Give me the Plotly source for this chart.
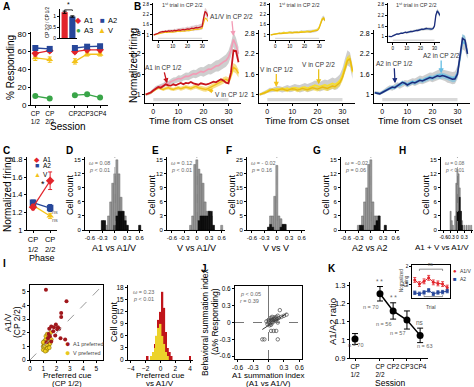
import numpy as np
import plotly.graph_objects as go

W, H = 474, 387
FONT = "Liberation Sans"

RED = "#e2242b"; BLUE = "#27479a"; GREEN = "#39a548"; YELLOW = "#f3c21a"
PINK = "#f39bb5"; NAVY = "#1c2c7c"; LBLUE = "#63bde3"; DRED = "#a0171c"
GRAYBAR = "#9a9a9a"; TXTGRAY = "#666666"

# ---------------- Panel A data ----------------
A_sessions = ["CP<br>1/2", "CP<br>2/2", "CP2", "CP3", "CP4"]
A_pos = [1, 2, 3.75, 4.6, 5.5]
A_A1 = [58, 61, 60, 62, 62]
A_A1_err = [3, 2, 2, 2, 2]
A_A2 = [64, 63, 64, 65.5, 66]
A_A2_err = [2, 2, 2, 2, 2]
A_A3 = [10, 7.3, 11, 12, 8.4]
A_A3_err = [1.5, 1, 1.5, 1.5, 1]
A_V = [53, 51, 49, 57, 57]
A_V_err = [3, 3, 3, 2, 2]
Ainset_pos = [0, 1]
Ainset_vals = [1.2, 1.0]
Ainset_err = [0.05, 0.03]

# ---------------- Panel B data ----------------
t = [-3, -2, -1, 0, 1, 2, 3, 4, 5, 6, 7, 8, 9, 10, 11, 12, 13, 14, 15, 16,
     17, 18, 19, 20, 21, 22, 23, 24, 25, 26, 27, 28, 29, 30, 31, 32, 33, 34]
CS_ON, CS_OFF = 0, 30
B1_red = [1.00, 1.03, 1.06, 1.12, 1.18, 1.22, 1.20, 1.24, 1.30, 1.27,
          1.26, 1.30, 1.27, 1.31, 1.34, 1.30, 1.34, 1.33, 1.37, 1.33,
          1.31, 1.29, 1.33, 1.31, 1.29, 1.31, 1.34, 1.38, 1.36, 1.40,
          1.45, 1.41, 1.35, 1.33, 1.65, 2.30, 2.28, 1.95]
B1_pink = [1.00, 1.02, 1.06, 1.12, 1.19, 1.22, 1.25, 1.27, 1.33, 1.31,
           1.38, 1.41, 1.42, 1.47, 1.46, 1.51, 1.54, 1.53, 1.58, 1.61,
           1.60, 1.65, 1.68, 1.66, 1.71, 1.75, 1.74, 1.80, 1.84, 1.85,
           1.91, 1.96, 2.00, 2.10, 2.32, 2.62, 2.45, 2.20]
B1_yel = [1.00, 1.02, 1.05, 1.10, 1.16, 1.20, 1.17, 1.15, 1.18, 1.20,
          1.17, 1.15, 1.18, 1.20, 1.17, 1.19, 1.22, 1.20, 1.18, 1.21,
          1.24, 1.20, 1.18, 1.16, 1.15, 1.18, 1.22, 1.26, 1.28, 1.32,
          1.36, 1.42, 1.45, 1.40, 1.55, 1.80, 1.75, 1.62]
SEM_GROW = [0.04, 0.04, 0.05, 0.05, 0.06, 0.06, 0.07, 0.07, 0.08, 0.08,
            0.08, 0.09, 0.09, 0.10, 0.10, 0.10, 0.11, 0.11, 0.12, 0.12,
            0.12, 0.13, 0.13, 0.14, 0.14, 0.15, 0.15, 0.16, 0.16, 0.17,
            0.17, 0.18, 0.18, 0.19, 0.20, 0.22, 0.22, 0.20]
SEM_SMALL = [0.03, 0.03, 0.03, 0.04, 0.04, 0.04, 0.04, 0.05, 0.05, 0.05,
             0.05, 0.05, 0.05, 0.06, 0.06, 0.06, 0.06, 0.06, 0.06, 0.06,
             0.07, 0.07, 0.07, 0.07, 0.07, 0.07, 0.08, 0.08, 0.08, 0.08,
             0.08, 0.09, 0.09, 0.10, 0.11, 0.13, 0.13, 0.12]
B2_v1 = [1.00, 1.02, 1.04, 1.08, 1.12, 1.15, 1.13, 1.12, 1.15, 1.17,
         1.14, 1.12, 1.15, 1.17, 1.16, 1.13, 1.15, 1.18, 1.16, 1.14,
         1.17, 1.20, 1.18, 1.16, 1.19, 1.22, 1.20, 1.18, 1.22, 1.25,
         1.23, 1.28, 1.35, 1.50, 1.75, 2.00, 2.05, 1.70]
B2_v2 = [1.00, 1.03, 1.06, 1.10, 1.14, 1.13, 1.15, 1.18, 1.16, 1.14,
         1.17, 1.19, 1.16, 1.18, 1.21, 1.19, 1.17, 1.20, 1.22, 1.19,
         1.21, 1.24, 1.28, 1.25, 1.23, 1.26, 1.29, 1.26, 1.30, 1.33,
         1.30, 1.34, 1.42, 1.58, 1.85, 2.08, 2.02, 1.66]
B3_a2_1 = [1.05, 1.03, 1.02, 1.06, 1.10, 1.15, 1.18, 1.22, 1.20, 1.26,
           1.30, 1.36, 1.33, 1.28, 1.32, 1.36, 1.34, 1.38, 1.42, 1.40,
           1.44, 1.46, 1.50, 1.48, 1.52, 1.55, 1.53, 1.56, 1.54, 1.50,
           1.48, 1.45, 1.46, 1.60, 2.10, 2.65, 2.60, 2.20]
B3_a2_2 = [1.06, 1.04, 1.03, 1.07, 1.12, 1.17, 1.20, 1.18, 1.24, 1.28,
           1.25, 1.30, 1.34, 1.31, 1.35, 1.38, 1.36, 1.40, 1.44, 1.42,
           1.46, 1.49, 1.52, 1.50, 1.54, 1.57, 1.60, 1.58, 1.56, 1.52,
           1.50, 1.48, 1.50, 1.65, 2.05, 2.55, 2.50, 2.25]
B1i_red = [1.00, 1.02, 1.05, 1.10, 1.15, 1.18, 1.20, 1.19, 1.22, 1.20,
           1.24, 1.22, 1.25, 1.23, 1.27, 1.25, 1.28, 1.30, 1.28, 1.31,
           1.33, 1.30, 1.34, 1.36, 1.34, 1.37, 1.40, 1.38, 1.42, 1.44,
           1.42, 1.46, 1.48, 1.50, 2.00, 2.40, 2.30, 2.10]
B1i_yel = [1.00, 1.02, 1.04, 1.08, 1.12, 1.14, 1.15, 1.14, 1.16, 1.15,
           1.17, 1.16, 1.18, 1.17, 1.19, 1.18, 1.20, 1.22, 1.21, 1.23,
           1.24, 1.22, 1.25, 1.27, 1.26, 1.28, 1.30, 1.29, 1.32, 1.34,
           1.33, 1.36, 1.38, 1.40, 1.70, 2.00, 1.95, 1.80]
B2i_v1 = [1.00, 1.02, 1.04, 1.06, 1.08, 1.10, 1.09, 1.08, 1.10, 1.12,
          1.11, 1.10, 1.12, 1.14, 1.13, 1.12, 1.14, 1.16, 1.15, 1.14,
          1.16, 1.18, 1.17, 1.16, 1.18, 1.20, 1.19, 1.18, 1.20, 1.22,
          1.21, 1.24, 1.28, 1.40, 1.65, 1.90, 2.00, 1.85]
B2i_v2 = [1.01, 1.03, 1.05, 1.08, 1.10, 1.12, 1.11, 1.10, 1.13, 1.15,
          1.13, 1.12, 1.15, 1.17, 1.15, 1.14, 1.17, 1.19, 1.17, 1.16,
          1.19, 1.21, 1.19, 1.18, 1.21, 1.23, 1.21, 1.20, 1.23, 1.25,
          1.24, 1.27, 1.32, 1.45, 1.72, 1.95, 2.02, 1.90]
B3i_a2 = [1.02, 1.00, 1.00, 1.05, 1.10, 1.12, 1.15, 1.14, 1.18, 1.20,
          1.19, 1.22, 1.25, 1.23, 1.26, 1.28, 1.30, 1.29, 1.32, 1.34,
          1.36, 1.35, 1.38, 1.40, 1.42, 1.41, 1.44, 1.46, 1.45, 1.44,
          1.42, 1.43, 1.46, 1.60, 2.20, 2.45, 2.35, 2.20]
for arr in [B1_red, B1_pink, B1_yel, SEM_GROW, SEM_SMALL, B2_v1, B2_v2, B3_a2_1,
            B3_a2_2, B1i_red, B1i_yel, B2i_v1, B2i_v2, B3i_a2]:
    assert len(arr) == len(t), len(arr)

# ---------------- Panel C data ----------------
C_phase = ["CP<br>1/2", "CP<br>2/2"]
C_pos = [1, 2]
C_A1 = [1.26, 1.56]; C_A1_err = [0.03, 0.10]
C_A2 = [1.31, 1.25]; C_A2_err = [0.03, 0.04]
C_V = [1.28, 1.16]; C_V_err = [0.03, 0.03]

# ---------------- Panels D-H data (bin centres / counts) ----------------
HIST_TICKS = [-0.6, -0.3, 0, 0.3, 0.6]
HIST_TICKTEXT = ["-0.6", "-0.3", "0", "0.3", "0.6"]
D_gray_x = [-0.3, -0.25, -0.2, -0.15, -0.1, -0.05, 0, 0.05, 0.1, 0.15, 0.2, 0.25, 0.3, 0.6]
D_gray_n = [2, 2, 1, 3, 6, 10, 12, 15, 12, 7, 4, 3, 1, 1]
D_blk_x = [-0.3, -0.25, 0.0, 0.05, 0.1, 0.15, 0.2, 0.25, 0.3, 0.6]
D_blk_n = [2, 2, 1, 3, 4, 4, 4, 2, 1, 1]
E_gray_x = [-0.15, -0.1, -0.05, 0, 0.05, 0.1, 0.15, 0.2, 0.25, 0.3, 0.35, 0.4, 0.6]
E_gray_n = [1, 3, 14, 15, 13, 12, 10, 6, 4, 4, 3, 1, 1]
E_blk_x = [0.05, 0.1, 0.15, 0.2, 0.25, 0.3, 0.35, 0.4]
E_blk_n = [2, 3, 3, 3, 3, 4, 4, 1]
F_gray_x = [-0.2, -0.15, -0.1, -0.05, 0, 0.05, 0.1, 0.15, 0.2]
F_gray_n = [1, 5, 5, 12, 23, 5, 4, 2, 2]
F_blk_x = [-0.2, -0.15, -0.1, 0.1, 0.15, 0.2]
F_blk_n = [1, 2, 1, 1, 2, 2]
G_gray_x = [-0.3, -0.25, -0.2, -0.15, -0.1, -0.05, 0, 0.05, 0.1, 0.15, 0.2, 0.35]
G_gray_n = [1, 1, 3, 6, 9, 14, 15, 6, 3, 3, 3, 1]
G_blk_x = [-0.25, -0.2, 0.1, 0.15, 0.2, 0.35]
G_blk_n = [1, 1, 1, 2, 3, 1]
H_gray_x = [-0.3, -0.25, -0.2, -0.1, -0.05, 0, 0.05, 0.1, 0.15, 0.2, 0.3, 0.4, 0.5, 0.6]
H_gray_n = [4, 2, 1, 3, 10, 13, 12, 9, 4, 2, 1, 1, 1, 1]
H_blk_x = [0.0, 0.05, 0.1, 0.15, 0.2]
H_blk_n = [4, 4, 7, 4, 1]

# ---------------- Panel I data ----------------
I_red_x = [1.2, 2.75, 2.35, 2.35, 1.95, 2.1, 2.2, 1.75, 1.6, 2.3, 2.65, 1.5, 1.35, 1.9,
           1.45, 1.25, 1.6, 2.05, 1.8, 1.4]
I_red_y = [5.15, 4.3, 3.45, 3.15, 2.6, 2.4, 2.3, 2.1, 2.45, 1.6, 1.5, 1.75, 1.6, 1.8,
           2.3, 1.3, 1.35, 2.25, 2.4, 1.9]
I_yel_x = [1.0, 1.1, 1.2, 1.05, 1.15, 1.3, 1.25, 1.1, 1.2, 1.35, 1.0, 1.15, 1.4, 1.05,
           1.3, 1.5, 1.2, 1.4, 1.6, 1.1, 1.25, 1.0, 1.3, 1.55, 1.45, 1.15]
I_yel_y = [1.0, 0.9, 1.1, 1.2, 0.8, 1.0, 0.7, 1.4, 1.5, 1.3, 0.75, 1.25, 1.1, 0.95,
           0.85, 1.2, 1.75, 1.6, 1.5, 1.05, 1.15, 1.3, 1.9, 2.0, 0.9, 0.65]
Ih_red_x = [-1.75, -1.25, -1.0, -0.75, -0.5, -0.25, 0.0, 0.25, 0.5, 0.75, 1.0, 1.25, 1.5, 4.0]
Ih_red_n = [1, 1, 2, 4, 6, 10, 12, 17, 13, 7, 3, 2, 1, 1]
Ih_yel_x = [-1.25, -1.0, -0.75, -0.5, -0.25, 0.0, 0.25, 0.5, 0.75, 1.0]
Ih_yel_n = [1, 2, 3, 6, 8, 9, 6, 4, 2, 1]

# ---------------- Panel J data ----------------
J_x = [0.00, 0.02, 0.03, 0.05, 0.06, 0.08, 0.10, 0.12, 0.04, 0.07, 0.09, 0.11, 0.13, 0.15,
       0.18, 0.20, 0.25, 0.30, -0.02, -0.04, 0.01, 0.05, 0.08, 0.14, 0.16, 0.22, 0.35, 0.18,
       0.05, 0.10, 0.15, -0.12, -0.08, 0.18, 0.00, 0.02]
J_y = [0.00, 0.02, -0.02, 0.03, 0.05, 0.04, 0.06, 0.05, 0.08, 0.10, 0.02, 0.09, 0.07, 0.10,
       0.12, 0.08, 0.10, 0.12, -0.03, 0.02, 0.05, -0.04, 0.00, 0.03, 0.06, 0.22, 0.14, 0.00,
       -0.15, -0.15, -0.15, -0.30, -0.30, -0.30, 0.04, -0.05]

# ---------------- Panel K data ----------------
K_sessions = ["CP<br>1/2", "CP<br>2/2", "CP2", "CP3", "CP4"]
K_pos = [1, 2.9, 3.9, 4.95, 5.95]
K_ratio = [1.005, 1.255, 1.16, 1.11, 1.025]
K_err = [0.03, 0.04, 0.045, 0.05, 0.04]
K_n = ["n = 70", "n = 70", "n = 56", "n = 57", "n = 63"]
Ki_trial = [1, 2, 3, 4, 5, 6, 7, 8]
Ki_a1v = [1.62, 1.50, 1.58, 1.68, 1.55, 1.52, 1.50, 1.40]
Ki_a1v_err = [0.07, 0.07, 0.07, 0.07, 0.07, 0.07, 0.07, 0.07]
Ki_a2 = [1.25, 1.22, 1.26, 1.32, 1.22, 1.26, 1.27, 1.30]
Ki_a2_err = [0.05, 0.05, 0.05, 0.05, 0.05, 0.05, 0.05, 0.05]

# ================= figure construction =================
fig = go.Figure()
layout_axes = {}
count = [0]


def add_axes(px0, px1, py0, py1, xrange, yrange, xkw=None, ykw=None, box=False, fs=7):
    count[0] += 1
    n = count[0]
    sx = '' if n == 1 else str(n)
    base = dict(showline=True, linecolor='black', linewidth=1, ticks='outside', ticklen=2,
                tickwidth=1, tickcolor='black', showgrid=False, zeroline=False, mirror=box,
                tickangle=0, automargin=False,
                tickfont=dict(size=fs, family=FONT, color='black'))
    xa = dict(base, domain=[px0 / W, px1 / W], range=xrange, anchor='y' + sx)
    ya = dict(base, domain=[1 - py1 / H, 1 - py0 / H], range=yrange, anchor='x' + sx)
    if xkw:
        xa.update(xkw)
    if ykw:
        ya.update(ykw)
    layout_axes['xaxis' + sx] = xa
    layout_axes['yaxis' + sx] = ya
    return 'x' + sx, 'y' + sx


def ann(x, y, text, size=8, angle=0, color='black', xanchor='center', yanchor='middle'):
    fig.add_annotation(x=x / W, y=1 - y / H, xref='paper', yref='paper', text=text,
                       showarrow=False, font=dict(size=size, color=color, family=FONT),
                       textangle=angle, xanchor=xanchor, yanchor=yanchor)


def letter(x, y, s):
    ann(x, y, "<b>%s</b>" % s, size=10, xanchor='left')


def band(xa, ya, x, m, s, color):
    m = np.array(m); s = np.array(s)
    fig.add_trace(go.Scatter(x=list(x) + list(x)[::-1], y=list(m + s) + list((m - s))[::-1],
                             fill='toself', fillcolor=color, line=dict(width=0),
                             mode='lines', hoverinfo='skip', xaxis=xa, yaxis=ya))


def line(xa, ya, x, y, color, width=1.4):
    fig.add_trace(go.Scatter(x=x, y=y, mode='lines', line=dict(color=color, width=width),
                             xaxis=xa, yaxis=ya))


def cs_bar(xa, ya, y0, y1):
    fig.add_shape(type='rect', xref=xa, yref=ya, x0=CS_ON, x1=CS_OFF, y0=y0, y1=y1,
                  fillcolor='#d9d9d9', line=dict(width=0), layer='below')


def tf(size):
    return dict(size=size, family=FONT, color='black')


# ---------- Panel A ----------
xa, ya = add_axes(31, 108, 32, 105, [0.7, 6.05], [0, 82],
                  xkw=dict(tickvals=A_pos, ticktext=A_sessions, tickfont=tf(6.5)),
                  ykw=dict(tickvals=[0, 20, 40, 60, 80], tickfont=tf(8)))
for s, e, c, sym in [(A_A3, A_A3_err, GREEN, 'circle'), (A_V, A_V_err, YELLOW, 'triangle-up'),
                     (A_A1, A_A1_err, RED, 'diamond'), (A_A2, A_A2_err, BLUE, 'square')]:
    for a, b in [(0, 2), (2, 5)]:
        fig.add_trace(go.Scatter(x=A_pos[a:b], y=s[a:b], mode='lines+markers',
                                 error_y=dict(type='data', array=e[a:b], color=c, thickness=1, width=2),
                                 line=dict(color=c, width=1.3),
                                 marker=dict(symbol=sym, size=6, color=c), xaxis=xa, yaxis=ya))
ann(10, 68, "% Responding", size=10, angle=-90)
ann(68, 126, "Session", size=10)
letter(1, 6, "A")
for (x, y, sym, col, lab) in [(78, 21, "◆", RED, "A1"), (102, 21, "■", BLUE, "A2"),
                              (78, 31, "●", GREEN, "A3"), (102, 31, "▲", YELLOW, "V")]:
    ann(x, y, sym, size=8, color=col)
    ann(x + 4, y, lab, size=7.5, xanchor='left')

# inset A
xa, ya = add_axes(60, 77, 9, 38, [-0.6, 1.6], [0, 1.35],
                  xkw=dict(showticklabels=False, ticks=''),
                  ykw=dict(tickvals=[0, 0.5, 1], tickfont=tf(5)))
fig.add_trace(go.Bar(x=Ainset_pos, y=Ainset_vals, width=0.8, marker=dict(color=[RED, BLUE], line=dict(width=0)),
                     error_y=dict(type='data', array=Ainset_err, color='black', thickness=1, width=2),
                     xaxis=xa, yaxis=ya))
fig.add_shape(type='path', xref=xa, yref=ya, path="M 0,1.26 L 0,1.31 L 1,1.31 L 1,1.26",
              line=dict(color='black', width=0.8))
fig.add_annotation(x=0.5, y=1.31, xref=xa, yref=ya, text="*", showarrow=False,
                   font=dict(size=7, family=FONT), yanchor='bottom')
ann(48, 22, "CP 2/2 / CP 1/2", size=4.5, angle=-90)

# ---------- Panel B ----------
B_YR = [0.75, 2.9]
B_XR = [-3.3, 35]
B_YT = dict(tickvals=[1, 1.6, 2.2, 2.8], ticktext=["1", "1.6", "2.2", "2.8"], tickfont=tf(7))
B_XT = dict(tickvals=[0, 10, 20, 30], tickfont=tf(7))
BI_YR = [0.7, 2.9]
BI_XR = [-3.5, 34]
BI_T = dict(tickvals=[1, 1.6, 2.2, 2.8], ticktext=["1", "1.6", "2.2", "2.8"], tickfont=tf(4.5))
BI_X = dict(tickvals=[0, 10, 20, 30], tickfont=tf(4.5))


def arrow(xa, ya, x, y, text, color, ax, ay):
    fig.add_annotation(x=x, y=y, xref=xa, yref=ya, text=text, showarrow=True, arrowhead=2,
                       arrowsize=0.8, arrowwidth=1.3, arrowcolor=color, ax=ax, ay=ay,
                       font=dict(size=6.5, color='#333', family=FONT))


# B1
xa, ya = add_axes(145, 241, 30, 103, B_XR, B_YR, xkw=B_XT, ykw=B_YT)
cs_bar(xa, ya, 0.80, 0.90)
band(xa, ya, t, B1_pink, SEM_GROW, 'rgba(165,165,165,0.55)')
band(xa, ya, t, B1_yel, SEM_SMALL, 'rgba(240,195,40,0.55)')
line(xa, ya, t, B1_yel, YELLOW, 1.4)
line(xa, ya, t, B1_pink, PINK, 1.6)
line(xa, ya, t, B1_red, '#c8141c', 1.8)
arrow(xa, ya, 5.5, 1.33, "A1 in CP 1/2", '#c8141c', -4, -16)
arrow(xa, ya, 32, 2.72, "A1/V in CP 2/2", PINK, -2, -20)
arrow(xa, ya, 21.5, 1.14, "V in CP 1/2", YELLOW, 24, 5)
ann(191, 120, "Time from CS onset", size=9.5)
ann(134, 66, "Normalized firing", size=10, angle=-90)
letter(132, 6, "B")

xa, ya = add_axes(153, 208, 3, 40, BI_XR, BI_YR, xkw=BI_X, ykw=BI_T)
cs_bar(xa, ya, 0.76, 0.84)
band(xa, ya, t, B1i_red, SEM_GROW, 'rgba(200,160,170,0.55)')
line(xa, ya, t, B1i_yel, YELLOW, 1.1)
line(xa, ya, t, B1i_red, '#c8141c', 1.3)
ann(160, 5, "1<sup>st</sup> trial in CP 2/2", size=5.5, xanchor='left', color='#333')

# B2
xa, ya = add_axes(259, 355, 30, 103, B_XR, B_YR, xkw=B_XT, ykw=B_YT)
cs_bar(xa, ya, 0.80, 0.90)
band(xa, ya, t, B2_v2, SEM_GROW, 'rgba(165,165,165,0.55)')
band(xa, ya, t, B2_v1, SEM_SMALL, 'rgba(245,215,40,0.6)')
line(xa, ya, t, B2_v2, '#f7df2a', 1.4)
line(xa, ya, t, B2_v1, '#e9b90f', 1.4)
arrow(xa, ya, 3.6, 1.22, "V in CP 1/2", YELLOW, 0, -18)
arrow(xa, ya, 20.5, 1.30, "V in CP 2/2", '#e9c21a', 0, -20)
ann(307, 120, "Time from CS onset", size=9.5)

xa, ya = add_axes(270, 325, 3, 40, BI_XR, BI_YR, xkw=BI_X, ykw=BI_T)
cs_bar(xa, ya, 0.76, 0.84)
band(xa, ya, t, B2i_v2, SEM_SMALL, 'rgba(165,165,165,0.5)')
line(xa, ya, t, B2i_v2, '#f7df2a', 1.2)
line(xa, ya, t, B2i_v1, '#e9b90f', 1.2)
ann(277, 5, "1<sup>st</sup> trial in CP 2/2", size=5.5, xanchor='left', color='#333')

# B3
xa, ya = add_axes(374, 470, 30, 103, B_XR, B_YR, xkw=B_XT, ykw=B_YT)
cs_bar(xa, ya, 0.80, 0.90)
band(xa, ya, t, B3_a2_2, SEM_GROW, 'rgba(165,165,165,0.55)')
band(xa, ya, t, B3_a2_1, SEM_SMALL, 'rgba(99,189,227,0.55)')
line(xa, ya, t, B3_a2_2, LBLUE, 1.4)
line(xa, ya, t, B3_a2_1, NAVY, 1.6)
arrow(xa, ya, 5.1, 1.33, "A2 in CP 1/2", NAVY, -1, -20)
arrow(xa, ya, 23.5, 1.62, "A2 in CP 2/2", LBLUE, 0, -18)
ann(420, 120, "Time from CS onset", size=9.5)

xa, ya = add_axes(388, 440, 3, 42, BI_XR, BI_YR, xkw=BI_X, ykw=BI_T)
cs_bar(xa, ya, 0.76, 0.84)
band(xa, ya, t, B3i_a2, SEM_SMALL, 'rgba(165,165,165,0.5)')
band(xa, ya, t, B3i_a2, [v * 0.5 for v in SEM_SMALL], 'rgba(99,189,227,0.6)')
line(xa, ya, t, B3i_a2, NAVY, 1.3)
ann(394, 5, "1<sup>st</sup> trial in CP 2/2", size=5.5, xanchor='left', color='#333')

# ---------- Panel C ----------
xa, ya = add_axes(27, 57, 157, 230, [0.65, 2.4], [1, 1.83],
                  xkw=dict(tickvals=C_pos, ticktext=C_phase, tickfont=tf(7.5)),
                  ykw=dict(tickvals=[1, 1.2, 1.4, 1.6, 1.8], tickfont=tf(7.5)))
for s, e, c, sym in [(C_V, C_V_err, YELLOW, 'triangle-up'), (C_A2, C_A2_err, BLUE, 'square'),
                     (C_A1, C_A1_err, RED, 'diamond')]:
    fig.add_trace(go.Scatter(x=C_pos, y=s, mode='lines+markers',
                             error_y=dict(type='data', array=e, color=c, thickness=1, width=2),
                             line=dict(color=c, width=1.3), marker=dict(symbol=sym, size=6.5, color=c),
                             xaxis=xa, yaxis=ya))
fig.add_annotation(x=1.6, y=1.52, xref=xa, yref=ya, text="*", showarrow=False, font=dict(size=9, family=FONT))
fig.add_annotation(x=2.3, y=1.21, xref=xa, yref=ya, text="ns", showarrow=False, font=dict(size=5.5, color=TXTGRAY, family=FONT))
fig.add_annotation(x=2.3, y=1.11, xref=xa, yref=ya, text="ns", showarrow=False, font=dict(size=5.5, color=TXTGRAY, family=FONT))
for (y, sym, col, lab) in [(159, "◆", RED, "A1"), (166, "■", BLUE, "A2"), (174, "▲", YELLOW, "V")]:
    ann(37, y, sym, size=7, color=col)
    ann(41, y, lab, size=6.5, xanchor='left')
ann(7, 195, "Normalized firing", size=10, angle=-90)
ann(42, 258, "Phase", size=9)
letter(1, 150, "C")


# ---------- Panels D-H ----------
def hist_panel(px0, px1, gx, gn, bx, bn, ymax, ytv, stat1, stat2, xlabel, let, letx, fs=6,
               xl_anchor='center', st_size=5.5):
    xa, ya = add_axes(px0, px1, 157, 230, [-0.72, 0.68], [0, ymax],
                      xkw=dict(tickvals=HIST_TICKS, ticktext=HIST_TICKTEXT, tickfont=tf(fs)),
                      ykw=dict(tickvals=ytv, tickfont=tf(6)))
    fig.add_shape(type='line', xref=xa, yref=ya, x0=0, x1=0, y0=0, y1=ymax,
                  line=dict(color='#999', width=0.8, dash='dash'))
    fig.add_trace(go.Bar(x=gx, y=gn, width=0.05, marker=dict(color=GRAYBAR, line=dict(color='#555', width=0.4)),
                         xaxis=xa, yaxis=ya))
    fig.add_trace(go.Bar(x=bx, y=bn, width=0.05, marker=dict(color='#111', line=dict(color='#000', width=0.4)),
                         xaxis=xa, yaxis=ya))
    ann(px0 + 2, 158, "<i>ω</i> = %s" % stat1, size=st_size, color=TXTGRAY, xanchor='left', yanchor='top')
    ann(px0 + 2, 165, "<i>p</i> %s" % stat2, size=st_size, color=TXTGRAY, xanchor='left', yanchor='top')
    ann(px0 - 15, 195, "Cell count", size=9, angle=-90)
    if xl_anchor == 'right':
        ann(471, 248, xlabel, size=8, xanchor='right')
    else:
        ann((px0 + px1) / 2, 248, xlabel, size=9)
    letter(letx, 150, let)


hist_panel(85, 143, D_gray_x, D_gray_n, D_blk_x, D_blk_n, 15.6, [0, 3, 6, 9, 12, 15],
           "0.08", "&lt; 0.01", "A1 vs A1/V", "D", 64)
hist_panel(167, 225, E_gray_x, E_gray_n, E_blk_x, E_blk_n, 15.6, [0, 3, 6, 9, 12, 15],
           "0.12", "&lt; 0.01", "V vs A1/V", "E", 150)
hist_panel(247, 305, F_gray_x, F_gray_n, F_blk_x, F_blk_n, 26, [0, 5, 10, 15, 20, 25],
           "- 0.02", "= 0.16", "V vs V", "F", 224)
hist_panel(341, 399, G_gray_x, G_gray_n, G_blk_x, G_blk_n, 15.6, [0, 3, 6, 9, 12, 15],
           "-0.02", "= 0.06", "A2 vs A2", "G", 311)
hist_panel(441, 473, H_gray_x, H_gray_n, H_blk_x, H_blk_n, 15.6, [0, 3, 6, 9, 12, 15],
           "0.08", "&lt; 0.01", "A1 + V vs A1/V", "H", 397, fs=5, xl_anchor='right', st_size=5)

# ---------- Panel I ----------
xa, ya = add_axes(30, 103, 285, 360, [0, 5.5], [0, 5.5], box=True,
                  xkw=dict(tickvals=[0, 1, 2, 3, 4, 5], tickfont=tf(6.5)),
                  ykw=dict(tickvals=[0, 1, 2, 3, 4, 5], tickfont=tf(6.5)))
fig.add_shape(type='line', xref=xa, yref=ya, x0=0, y0=0, x1=5.5, y1=5.5,
              line=dict(color='#999', width=1, dash='dash'))
fig.add_trace(go.Scatter(x=I_yel_x, y=I_yel_y, mode='markers',
                         marker=dict(size=4, color='#f0d020', line=dict(color='#7a6000', width=0.5)),
                         xaxis=xa, yaxis=ya))
fig.add_trace(go.Scatter(x=I_red_x, y=I_red_y, mode='markers',
                         marker=dict(size=4, color=DRED, line=dict(width=0)), xaxis=xa, yaxis=ya))
ann(67, 344, "●", size=9, color=DRED)
ann(71, 344, "A1 preferred", size=5.5, xanchor='left', color='#444')
ann(67, 353, "●", size=9, color='#e8c820')
ann(71, 353, "V preferred", size=5.5, xanchor='left', color='#444')
ann(8, 322, "A1/V", size=8.5, angle=-90)
ann(17, 322, "(CP 2/2)", size=8.5, angle=-90)
ann(67, 375, "Preferred cue", size=8)
ann(67, 383.5, "(CP 1/2)", size=8)
letter(1, 263, "I")

xa, ya = add_axes(128, 193, 285, 360, [-4.4, 4.4], [0, 18.7],
                  xkw=dict(tickvals=[-4, -2, 0, 2, 4], tickfont=tf(6.5)),
                  ykw=dict(tickvals=[0, 3, 6, 9, 12, 15, 18], tickfont=tf(6.5)))
fig.add_trace(go.Bar(x=Ih_red_x, y=Ih_red_n, width=0.25, marker=dict(color='#c0141a', line=dict(width=0)),
                     xaxis=xa, yaxis=ya))
fig.add_trace(go.Bar(x=Ih_yel_x, y=Ih_yel_n, width=0.25, marker=dict(color='#ecd22a', line=dict(width=0)),
                     xaxis=xa, yaxis=ya))
ann(131, 287, "<i>ω</i> = 0.23", size=5.5, color=TXTGRAY, xanchor='left', yanchor='top')
ann(131, 294, "<i>p</i> &lt; 0.01", size=5.5, color=TXTGRAY, xanchor='left', yanchor='top')
ann(114, 322, "Cell count", size=9, angle=-90)
ann(160, 375, "Preferred cue", size=8)
ann(160, 383.5, "vs A1/V", size=8)

# ---------- Panel J ----------
xa, ya = add_axes(235, 302, 286, 359, [-0.65, 0.65], [-0.65, 0.65], box=True,
                  xkw=dict(tickvals=HIST_TICKS, ticktext=HIST_TICKTEXT, tickfont=tf(6.5)),
                  ykw=dict(tickvals=HIST_TICKS, ticktext=HIST_TICKTEXT, tickfont=tf(6.5)))
fig.add_shape(type='line', xref=xa, yref=ya, x0=-0.65, x1=0.65, y0=0, y1=0,
              line=dict(color='#777', width=1, dash='dash'))
fig.add_shape(type='line', xref=xa, yref=ya, x0=0, x1=0, y0=0, y1=0.65, line=dict(color='#777', width=1))
fig.add_shape(type='line', xref=xa, yref=ya, x0=0, x1=0, y0=-0.65, y1=0,
              line=dict(color='#777', width=1, dash='dash'))
slope, icpt = np.polyfit(J_x, J_y, 1)
fx = [min(J_x), max(J_x)]
fig.add_trace(go.Scatter(x=fx, y=[slope * v + icpt for v in fx], mode='lines',
                         line=dict(color='#333', width=1), xaxis=xa, yaxis=ya))
fig.add_trace(go.Scatter(x=J_x, y=J_y, mode='markers',
                         marker=dict(size=3.5, color='rgba(0,0,0,0)', line=dict(color='#444', width=0.7)),
                         xaxis=xa, yaxis=ya))
ann(238, 289, "<i>p</i> &lt; 0.05", size=5.5, color=TXTGRAY, xanchor='left', yanchor='top')
ann(238, 296, "<i>r</i> = 0.39", size=5.5, color=TXTGRAY, xanchor='left', yanchor='top')
ann(205, 322, "Behavioral summation index", size=8.5, angle=-90)
ann(215, 322, "(Δ% Responding)", size=8.5, angle=-90)
ann(268, 375, "A1 summation index", size=8)
ann(268, 383.5, "(A1 vs A1/V)", size=8)
letter(199, 268, "J")

# ---------- Panel K ----------
xa, ya = add_axes(350, 428, 282, 358, [0.62, 6.55], [0.9, 1.32],
                  xkw=dict(tickvals=K_pos, ticktext=K_sessions, tickfont=tf(6.5)),
                  ykw=dict(tickvals=[0.9, 1, 1.1, 1.2, 1.3], ticktext=["0.9", "1", "1.1", "1.2", "1.3"],
                           tickfont=tf(7.5)))
fig.add_trace(go.Scatter(x=K_pos[1:], y=K_ratio[1:], mode='lines', line=dict(color='black', width=1.5),
                         xaxis=xa, yaxis=ya))
fig.add_trace(go.Scatter(x=K_pos, y=K_ratio, mode='markers',
                         error_y=dict(type='data', array=K_err, color='black', thickness=1, width=3),
                         marker=dict(size=7, color='black'), xaxis=xa, yaxis=ya))
n_off = [(0.05, -0.035), (-0.75, -0.075), (-0.75, -0.07), (-0.75, -0.07), (0.3, -0.06)]
for p, r, lab, (dx, dy) in zip(K_pos, K_ratio, K_n, n_off):
    fig.add_annotation(x=p + dx, y=r + dy, xref=xa, yref=ya, text=lab, showarrow=False,
                       font=dict(size=5.5, color=TXTGRAY, family=FONT))
for p, r, e, lab in [(K_pos[1], K_ratio[1], K_err[1], "* *"), (K_pos[2], K_ratio[2], K_err[2], "* *"),
                     (K_pos[4], K_ratio[4], K_err[4], "ns")]:
    fig.add_annotation(x=p, y=r + e, xref=xa, yref=ya, text=lab, showarrow=False, yanchor='bottom',
                       font=dict(size=6.5, color=TXTGRAY, family=FONT))
ann(332, 322, "A1/A2 ratio", size=9.5, angle=-90)
ann(390, 383, "Session", size=8.5)
letter(326, 268, "K")

xa, ya = add_axes(412, 450, 265, 298, [0.4, 8.6], [1.1, 2.05], box=True,
                  xkw=dict(showticklabels=False, ticks='', linewidth=0.7),
                  ykw=dict(tickvals=[1.5, 2], tickfont=tf(4.5), linewidth=0.7))
fig.add_trace(go.Scatter(x=Ki_trial, y=Ki_a1v, mode='lines+markers',
                         error_y=dict(type='data', array=Ki_a1v_err, color=RED, thickness=0.8, width=1.5),
                         line=dict(color=RED, width=1), marker=dict(size=3, color=RED), xaxis=xa, yaxis=ya))
fig.add_trace(go.Scatter(x=Ki_trial, y=Ki_a2, mode='lines+markers',
                         error_y=dict(type='data', array=Ki_a2_err, color=BLUE, thickness=0.8, width=1.5),
                         line=dict(color=BLUE, width=1), marker=dict(size=3, color=BLUE, symbol='square'),
                         xaxis=xa, yaxis=ya))
fig.add_shape(type='path', xref=xa, yref=ya, path="M 2,1.88 L 2,1.93 L 7,1.93 L 7,1.88",
              line=dict(color='#444', width=0.6))
fig.add_shape(type='path', xref=xa, yref=ya, path="M 3,1.18 L 3,1.14 L 7,1.14 L 7,1.18",
              line=dict(color='#444', width=0.6))
fig.add_annotation(x=4.5, y=1.93, xref=xa, yref=ya, text="ns", showarrow=False, yanchor='bottom',
                   font=dict(size=4.5, color='#444', family=FONT))
ann(401, 281, "Normalized", size=4.5, angle=-90, color='#444')
ann(406, 281, "Firing", size=4.5, angle=-90, color='#444')
ann(431, 307, "Trial", size=5, color='#444')
ann(455, 271, "●", size=6, color=RED)
ann(458, 271, "A1/V", size=5, xanchor='left', color='#333')
ann(455, 279, "■", size=6, color=BLUE)
ann(458, 279, "A2", size=5, xanchor='left', color='#333')

fig.update_layout(**layout_axes)
fig.update_layout(width=W, height=H, margin=dict(l=0, r=0, t=0, b=0), showlegend=False,
                  plot_bgcolor='rgba(0,0,0,0)', paper_bgcolor='white', barmode='overlay',
                  font=dict(family=FONT, color='black'))
fig.write_html("out.html", config={'displayModeBar': False},
               post_script="document.body.style.margin='0';document.body.style.padding='0';")
